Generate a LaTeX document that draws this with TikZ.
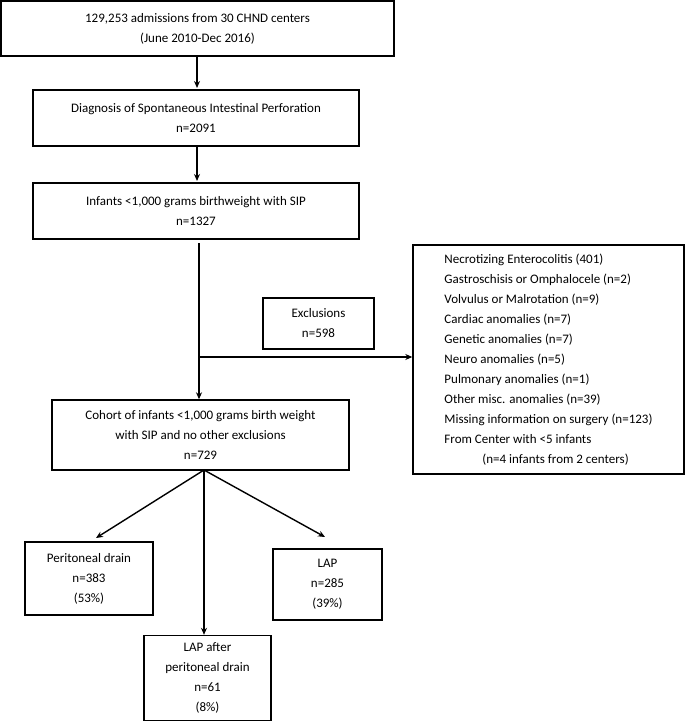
\documentclass[tikz,border=0pt]{standalone}
\usepackage{fontspec}
\setmainfont{Carlito}
\usetikzlibrary{arrows.meta}
\begin{document}
\begin{tikzpicture}[x=1pt,y=-1pt,
 box/.style={draw,line width=1.4pt,align=center,inner sep=0pt,font=\fontsize{13}{20}\selectfont},
 arr/.style={line width=1.4pt,-{Stealth[length=7pt,width=6pt]}}]
\useasboundingbox (0,0) rectangle (685,722);
\node[box,minimum width=393pt,minimum height=55pt] (a) at (197.5,28.5) {129,253 admissions from 30 CHND centers\\(June 2010-Dec 2016)};
\node[box,minimum width=326pt,minimum height=56pt] (b) at (196,118) {Diagnosis of Spontaneous Intestinal Perforation\\n=2091};
\node[box,minimum width=326pt,minimum height=56pt] (c) at (196,211) {Infants <1,000 grams birthweight with SIP\\n=1327};
\node[box,minimum width=111pt,minimum height=51pt] (ex) at (318.5,323.5) {Exclusions\\n=598};
\node[box,minimum width=271pt,minimum height=229pt,align=left] (list) at (548.5,359.5) {Necrotizing Enterocolitis (401)\\Gastroschisis or Omphalocele (n=2)\\Volvulus or Malrotation (n=9)\\Cardiac anomalies (n=7)\\Genetic anomalies (n=7)\\Neuro anomalies (n=5)\\Pulmonary anomalies (n=1)\\Other misc. anomalies (n=39)\\Missing information on surgery (n=123)\\From Center with <5 infants\\\hspace*{38pt}(n=4 infants from 2 centers)};
\node[box,minimum width=297pt,minimum height=70pt] (d) at (200.5,435) {Cohort of infants <1,000 grams birth weight\\with SIP and no other exclusions\\n=729};
\node[box,minimum width=128pt,minimum height=73pt] (e) at (89,578.5) {Peritoneal drain\\n=383\\(53\%)};
\node[box,minimum width=109pt,minimum height=71pt] (f) at (327.5,584.5) {LAP\\n=285\\(39\%)};
\node[box,minimum width=127pt,minimum height=85pt] (g) at (207.5,678) {LAP after\\peritoneal drain\\n=61\\(8\%)};
\coordinate (j) at (199,357);
\draw[arr] (a.south -| 197,0) -- (197,88);
\draw[arr] (b.south -| 197,0) -- (197,181);
\draw[line width=1.4pt] (199,243) -- (j);
\draw[arr] (j) -- (d.north -| 199,0);
\draw[arr] (j) -- (list.west |- j);
\draw[arr] (204,470) -- (96,538);
\draw[arr] (204,470) -- (325,537);
\draw[arr] (204,470) -- (g.north -| 204,0);
\end{tikzpicture}
\end{document}
